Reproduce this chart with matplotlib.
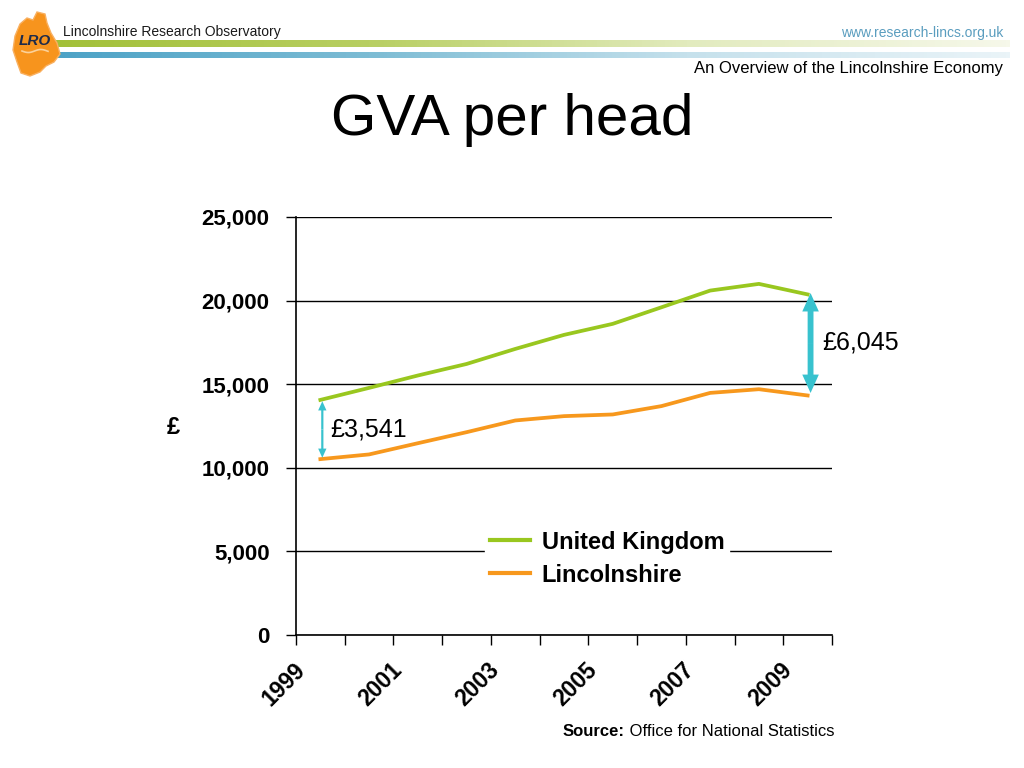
import numpy as np
import matplotlib
matplotlib.use('Agg')
import matplotlib.pyplot as plt
import matplotlib.patches as mpatches
from matplotlib.colors import LinearSegmentedColormap
from matplotlib.transforms import ScaledTranslation

plt.rcParams['font.family'] = ['Liberation Sans', 'DejaVu Sans']

# data (GVA per head, £)
years = ['1999', '2000', '2001', '2002', '2003', '2004', '2005', '2006', '2007', '2008', '2009']
uk = [14060, 14780, 15520, 16210, 17110, 17950, 18610, 19600, 20600, 21000, 20370]
linc = [10519, 10800, 11470, 12130, 12830, 13090, 13190, 13690, 14480, 14700, 14325]
series_names = ['United Kingdom', 'Lincolnshire']
gap_labels = ['£3,541', '£6,045']

uk_col = '#99C71F'
linc_col = '#F7981D'
arrow_col = '#38C2CE'

fig = plt.figure(figsize=(10.24, 7.68), dpi=100)

# header decoration drawn in pixel coordinates
hd = fig.add_axes([0, 0, 1, 1], zorder=0)
hd.axis('off')
hd.patch.set_alpha(0)

green = LinearSegmentedColormap.from_list('g', ['#A2C038', '#B8CF62', '#E2EBBE', '#F6F8EA'])
blue = LinearSegmentedColormap.from_list('b', ['#4CA2C6', '#7DBCD4', '#C6E1EC', '#EAF4F8'])
grad = np.linspace(0, 1, 256).reshape(1, -1)
hd.imshow(grad, cmap=green, extent=[50, 1010, 47, 40], aspect='auto')
hd.imshow(grad, cmap=blue, extent=[50, 1010, 58, 52], aspect='auto')
hd.set_xlim(0, 1024)
hd.set_ylim(768, 0)

logo = [(20, 24), (27, 18), (33, 20), (37, 12), (45, 14), (47, 23), (51, 33), (57, 43),
        (60, 54), (54, 62), (46, 66), (40, 72), (30, 76), (21, 73), (17, 62), (13, 50), (15, 36)]
hd.add_patch(mpatches.Polygon(logo, closed=True, facecolor='#F7941D', edgecolor='#F9B060', lw=1, zorder=3))
hd.text(35, 41, 'LRO', fontsize=11, fontweight='bold', style='italic', color='#1E2B4A',
        ha='center', va='center', zorder=4)
wx = np.linspace(22, 48, 40)
hd.plot(wx, 51 + 1.5 * np.sin((wx - 22) / 4), color='#FBD19A', lw=1.2, zorder=4)

hd.text(63, 32, 'Lincolnshire Research Observatory', fontsize=10, color='#1a1a1a', va='center')
hd.text(1003, 33, 'www.research-lincs.org.uk', fontsize=10, color='#5A9DBF', ha='right', va='center')
hd.text(1003, 69, 'An Overview of the Lincolnshire Economy', fontsize=12, color='black', ha='right', va='center')
hd.text(512, 120, 'GVA per head', fontsize=42, color='black', ha='center', va='center')
src = hd.text(563, 731, 'Source:', fontsize=12, fontweight='bold', ha='left', va='center')
hd.annotate(' Office for National Statistics', xy=(1, 0.5), xycoords=src, fontsize=12,
            ha='left', va='center')
hd.text(173, 427, '£', fontsize=17, fontweight='bold', ha='center', va='center')

# chart
ax = fig.add_axes([296 / 1024, 1 - 635 / 768, 536 / 1024, 418 / 768], zorder=2)
ax.patch.set_alpha(0)
x = np.arange(len(years))
ax.plot(x, uk, color=uk_col, lw=2.7, label=series_names[0], zorder=3)
ax.plot(x, linc, color=linc_col, lw=2.7, label=series_names[1], zorder=3)

ax.set_xlim(-0.5, len(years) - 0.5)
ax.set_ylim(0, 25000)
ax.set_yticks(range(0, 25001, 5000))
ax.set_yticklabels([f'{v:,}' for v in range(0, 25001, 5000)], fontsize=16, fontweight='bold')
ax.yaxis.grid(True, color='black', lw=1)
ax.set_axisbelow(True)
ax.tick_params(axis='y', length=7, width=1, pad=12, direction='out')

ax.set_xticks(x[::2])
ax.set_xticklabels(years[::2], fontsize=16.5, fontweight='bold', rotation=45, ha='right')
ax.set_xticks(np.arange(-0.5, len(years), 1), minor=True)
ax.tick_params(axis='x', which='major', length=0, pad=17)
ax.tick_params(axis='x', which='minor', length=7, width=1, direction='out')
off = ScaledTranslation(-0.11, 0, fig.dpi_scale_trans)
for lab in ax.get_xticklabels():
    lab.set_transform(lab.get_transform() + off)

for s in ['top', 'right']:
    ax.spines[s].set_visible(False)
ax.spines['left'].set_linewidth(1.2)
ax.spines['bottom'].set_linewidth(1.2)


def double_arrow(xc, top, bottom, w, hw, hl):
    mid = (top + bottom) / 2
    for end in (top, bottom):
        ax.add_patch(mpatches.FancyArrow(xc, mid, 0, end - mid, width=w, head_width=hw,
                                         head_length=hl, length_includes_head=True,
                                         color=arrow_col, lw=0, zorder=4))


double_arrow(x[0] + 0.04, uk[0] - 80, linc[0] + 80, 0.045, 0.17, 550)
double_arrow(x[-1] + 0.06, uk[-1] + 80, linc[-1] + 150, 0.12, 0.34, 1100)
ax.text(x[0] + 0.2, (uk[0] + linc[0]) / 2, gap_labels[0], fontsize=18, va='center', ha='left')
ax.text(x[-1] + 0.29, (uk[-1] + linc[-1]) / 2 + 150, gap_labels[1], fontsize=18, va='center',
        ha='left', clip_on=False)

leg = ax.legend(loc='upper left', bbox_to_anchor=(485 / 1024, 1 - 526 / 768),
                bbox_transform=fig.transFigure, frameon=True, fancybox=False,
                facecolor='white', edgecolor='white', framealpha=1,
                prop={'size': 17, 'weight': 'bold'}, handlelength=1.7,
                handletextpad=0.5, labelspacing=0.42, borderpad=0.2, borderaxespad=0)
for ln in leg.get_lines():
    ln.set_linewidth(3)

fig.savefig('out.png', dpi=100)
